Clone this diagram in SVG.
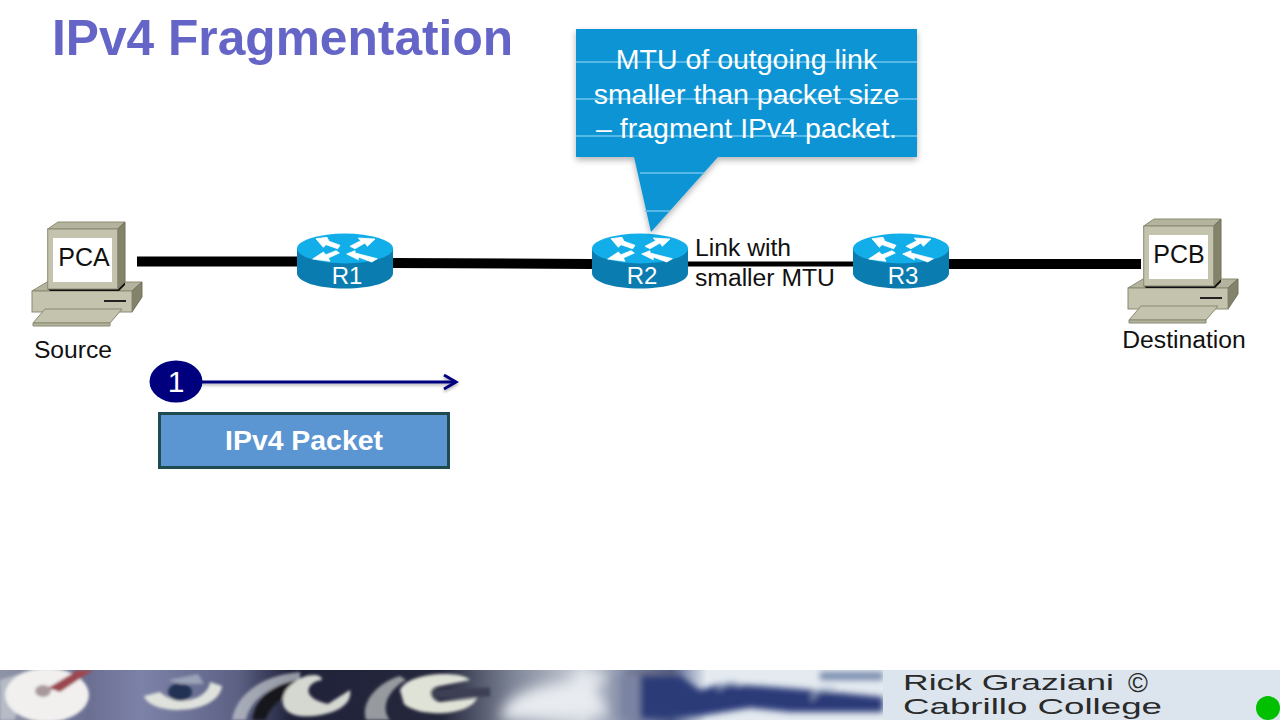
<svg xmlns="http://www.w3.org/2000/svg" width="1280" height="720" viewBox="0 0 1280 720">
<style>
text{font-family:"Liberation Sans",Arial,sans-serif}
.lbl{font-size:24.700px;fill:#111}
.rt{font-size:24px;fill:#fff;text-anchor:middle}
.pcl{font-size:25px;fill:#111;text-anchor:middle}
.cap{font-size:24.700px;fill:#111;text-anchor:middle}
.cal{font-size:28.500px;fill:#fff;text-anchor:middle}
.thick{stroke:#000;stroke-width:10;fill:none}
.ban{font-size:22px;fill:#2a2a2a}
.pc1{fill:#c4c4ae;stroke:#8a8a72;stroke-width:1}
.pc2{fill:#b4b49e;stroke:#8a8a72;stroke-width:1}
.pc3{fill:#83836b;stroke:#70705a;stroke-width:1}
</style>
<defs>
<filter id="sh" x="-10%" y="-10%" width="120%" height="125%"><feDropShadow dx="0" dy="3" stdDeviation="3" flood-color="#000" flood-opacity="0.3"/></filter>
<filter id="sh2" x="-5%" y="-100%" width="110%" height="300%"><feDropShadow dx="0" dy="2" stdDeviation="1.500" flood-color="#000" flood-opacity="0.3"/></filter>
<filter id="b1" x="-20%" y="-20%" width="140%" height="140%"><feGaussianBlur stdDeviation="1.800"/></filter>
<filter id="b2" x="-20%" y="-20%" width="140%" height="140%"><feGaussianBlur stdDeviation="3"/></filter>
<filter id="b5" x="-40%" y="-60%" width="180%" height="220%"><feGaussianBlur stdDeviation="7"/></filter>
<clipPath id="bc"><rect y="670" width="883" height="50"/></clipPath>
<linearGradient id="bg" x1="0" x2="883" y1="0" y2="0" gradientUnits="userSpaceOnUse">
<stop offset="0" stop-color="#8f95a6"/><stop offset="0.1" stop-color="#6b6f92"/><stop offset="0.16" stop-color="#7d82a8"/><stop offset="0.27" stop-color="#5c6184"/><stop offset="0.33" stop-color="#20223a"/><stop offset="0.5" stop-color="#25273c"/><stop offset="0.58" stop-color="#7d8496"/><stop offset="0.66" stop-color="#c9ced8"/><stop offset="0.68" stop-color="#a5acbc"/><stop offset="0.76" stop-color="#4b5a88"/><stop offset="0.8" stop-color="#e4eaf0"/><stop offset="1" stop-color="#e4eaf0"/>
</linearGradient>
<symbol id="router" viewBox="0 0 98 58" width="98" height="58" overflow="visible">
<path d="M1 15V40C1 49 22 55.500 49 55.500S97 49 97 40V15Z" fill="#0a7cb0"/>
<ellipse cx="49" cy="15.500" rx="48" ry="15" fill="#12aeea"/>
<g fill="#fff" stroke="#fff" stroke-width="0.800" stroke-linejoin="round">
<path d="M20 5.700L31 4.300L33 8.300L44 12.300L41.700 15.700L30 11.700L27.300 14.300Z"/>
<path d="M79 6L71.300 13.300L69 10L59 15.700L54 13.300L64.700 7.700L62.300 5Z"/>
<path d="M16.700 26L27.300 19L30 21.700L40 17.700L43.300 20L32.300 25L34 28.300Z"/>
<path d="M50.700 21L59 17.700L59 20L81.300 25.700L75.700 29L62.300 24L62.300 26.700Z"/>
</g>
</symbol>
<symbol id="pc" viewBox="0 0 112 106" width="112" height="106" overflow="visible">
<path class="pc2" d="M0 70L15 61H110L100 70Z"/>
<path class="pc3" d="M100 70L110 61V76L100 91Z"/>
<rect class="pc1" x="0" y="70" width="100" height="21"/>
<rect x="72" y="79" width="22" height="2" fill="#222"/>
<path class="pc1" d="M1 102L13 88H90L78 102Z"/>
<path class="pc2" d="M1 102H78V105H1Z"/>
<path d="M16 68H86L93 61V64L87 70H18Z" fill="#111"/>
<path class="pc2" d="M15.700 8L26 1H93L85.700 8Z"/>
<path class="pc3" d="M85.700 8L93 1V61L85.700 68Z"/>
<rect class="pc1" x="15.700" y="8" width="70" height="60"/>
<rect x="21" y="17" width="59" height="44" fill="#fff"/>
</symbol>
</defs>
<rect width="1280" height="720" fill="#fff"/>
<text x="52" y="55" font-size="49.700" font-weight="bold" fill="#6565c8">IPv4 Fragmentation</text>
<g id="connectors">
<path class="thick" d="M137 261.500H297"/>
<path class="thick" d="M393 263L592 264"/>
<path d="M688 264H854" stroke="#000" stroke-width="5" fill="none"/>
<path class="thick" d="M949 264H1141"/>
<g filter="url(#sh2)"><path d="M200 382H456" stroke="#00007f" stroke-width="3" fill="none"/><path d="M444 375L456 382L444 389" stroke="#00007f" stroke-width="3" fill="none"/></g>
</g>
<g id="PCA"><use href="#pc" x="32" y="221"/><text class="pcl" x="84" y="266">PCA</text><text class="cap" x="73" y="358">Source</text></g>
<g id="PCB"><use href="#pc" x="1128" y="218"/><text class="pcl" x="1179" y="263">PCB</text><text class="cap" x="1184" y="348">Destination</text></g>
<g id="R1"><use href="#router" x="296" y="233"/><text class="rt" x="347" y="284">R1</text></g>
<g id="R2"><use href="#router" x="591" y="233"/><text class="rt" x="642" y="284">R2</text></g>
<g id="R3"><use href="#router" x="852" y="233"/><text class="rt" x="903" y="284">R3</text></g>
<g id="link-label"><text class="lbl" x="695" y="256">Link with</text><text class="lbl" x="695" y="286">smaller MTU</text></g>
<g id="callout">
<path d="M576 29H917V157H718L651 232L634 157H576Z" fill="#0b94d4" filter="url(#sh)"/>
<path d="M576 62H917M576 99H917M576 136H917M640 173H704M645 211H670" stroke="#6fc4ec" stroke-width="1.500" fill="none"/>
<text class="cal" x="746.500" y="69">MTU of outgoing link</text>
<text class="cal" x="746.500" y="104">smaller than packet size</text>
<text class="cal" x="746.500" y="138">– fragment IPv4 packet.</text>
</g>
<g id="step-1"><ellipse cx="176" cy="381.500" rx="26.500" ry="21" fill="#00007f"/><text x="176" y="392" font-size="30" fill="#fff" text-anchor="middle">1</text></g>
<g id="packet"><rect x="159.500" y="413.500" width="289" height="54" fill="#5b95d2" stroke="#1f4a50" stroke-width="3"/><text x="304" y="450" font-size="28.400" font-weight="bold" fill="#fff" text-anchor="middle">IPv4 Packet</text></g>
<g id="banner">
<rect y="670" width="883" height="50" fill="url(#bg)"/>
<g clip-path="url(#bc)">
<g filter="url(#b1)">
<path d="M0 680L25 672L15 720H0Z" fill="#c8ccd4" opacity="0.7"/>
<ellipse cx="47" cy="695" rx="42" ry="27" fill="#f1f0ef"/>
<ellipse cx="43" cy="691" rx="8" ry="6" fill="#a89a9c"/>
<path d="M48 688L78 670H93L60 692Z" fill="#9c4650"/>
<path d="M144 696C150 716 218 716 222 686L210 682C208 700 176 708 160 692Z" fill="#dfe2dc"/>
<ellipse cx="180" cy="692" rx="12" ry="9" fill="#223355"/>
<path d="M168 680L198 674L204 684L180 684Z" fill="#9aa3b8"/>
<path d="M232 720C236 695 262 675 300 672V680C272 684 250 700 246 720Z" fill="#c8ccd0" opacity="0.7"/>
<path d="M252 720C256 696 276 682 300 680V690C285 695 270 705 266 720Z" fill="#12131f"/>
<path d="M286 690C300 672 322 672 322 680C306 682 300 698 328 704L350 690C354 710 320 718 300 716C285 714 278 704 286 690Z" fill="#d5d8d0"/>
<path d="M366 720C360 700 380 682 400 676L406 680C388 690 380 708 390 720Z" fill="#c8ccc8" opacity="0.7"/>
<path d="M400 690C408 672 460 670 470 680L440 686C426 688 430 700 440 702L477 698C470 716 420 718 404 704Z" fill="#dfe2d6"/>
<path d="M432 694L490 692" stroke="#3d3f55" stroke-width="9" fill="none"/>
</g>
<g filter="url(#b5)">
<path d="M500 720C505 690 540 685 590 680L610 715L560 720Z" fill="#e8ebf0"/>
<ellipse cx="590" cy="678" rx="18" ry="7" fill="#e6e9ee"/>
</g>
<g filter="url(#b2)">
<path d="M620 676H680L700 690L720 684L760 686L800 689L883 697V712L820 712L790 712L750 708L700 716L660 718H620Z" fill="#2b3b78"/>
<path d="M612 676H640V718H612Z" fill="#8f97ad" opacity="0.8"/>
<path d="M718 690C726 680 736 682 740 686M812 700C814 690 826 686 836 690" stroke="#a4b4d2" stroke-width="2.500" fill="none"/>
<rect x="820" y="672" width="63" height="8" fill="#7488aa"/>
<rect x="625" y="671" width="55" height="3" fill="#667"/>
</g>
</g>
<rect x="883" y="670" width="397" height="50" fill="#dce5ed"/>
<text class="ban" x="903" y="690" textLength="211" lengthAdjust="spacingAndGlyphs">Rick Graziani</text>
<text class="ban" x="1128" y="692" style="font-size:27px">©</text>
<text class="ban" x="903" y="714" textLength="259" lengthAdjust="spacingAndGlyphs">Cabrillo College</text>
<ellipse cx="1268" cy="708" rx="12" ry="12" fill="#00c000"/>
</g>
</svg>
